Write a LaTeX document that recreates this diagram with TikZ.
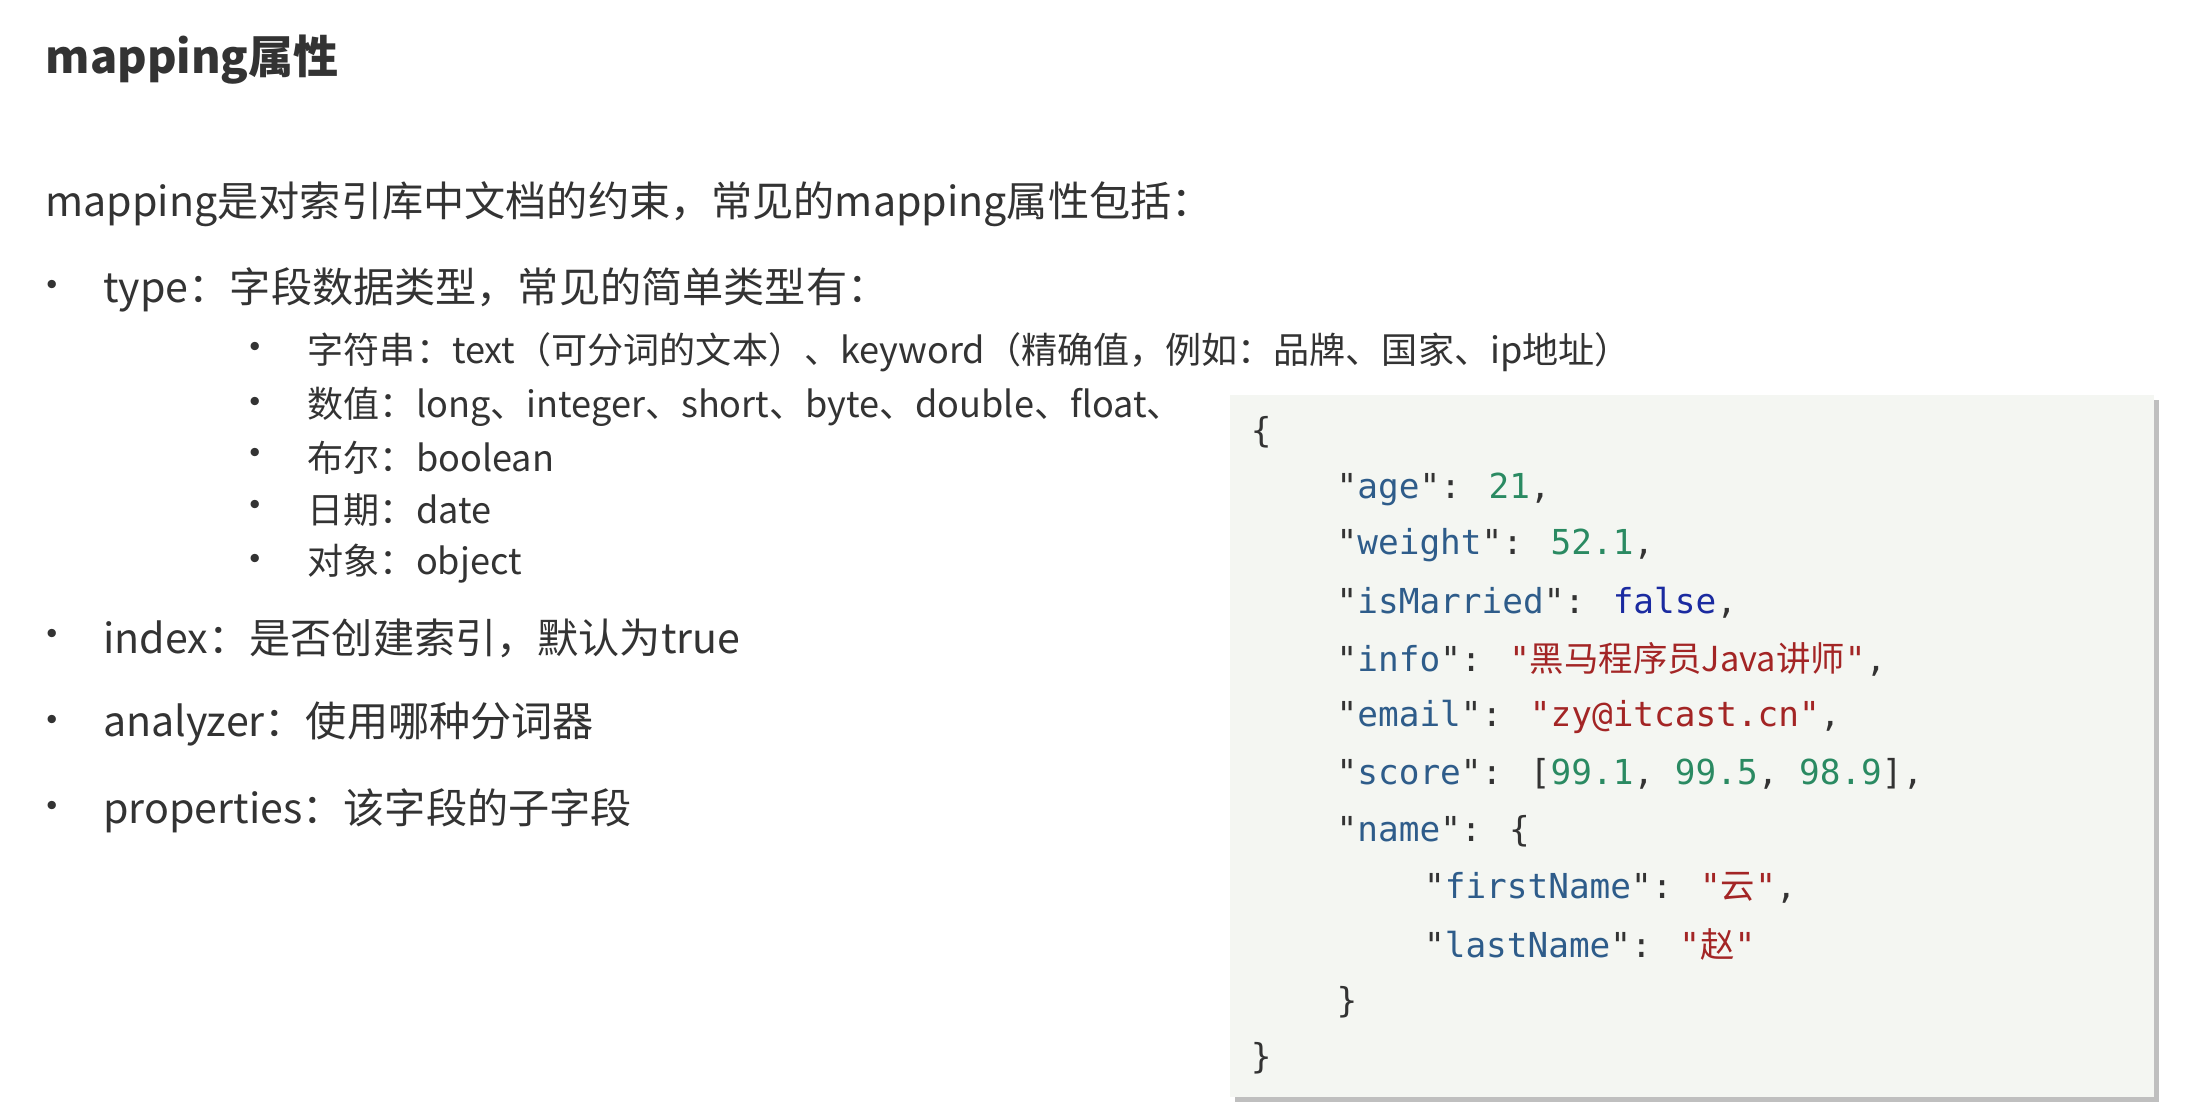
\documentclass[tikz,border=0pt]{standalone}
\usepackage{fontspec}
\setmainfont{Noto Sans CJK SC}
\newfontfamily\cjk{Noto Sans CJK SC}
\newfontfamily\codefont{DejaVu Sans Mono}
\definecolor{keyc}{HTML}{2E5C8A}
\definecolor{numc}{HTML}{2A8A62}
\definecolor{boolc}{HTML}{1A2AA0}
\definecolor{strc}{HTML}{A32525}
\definecolor{boxc}{HTML}{F4F6F2}
\definecolor{txt}{HTML}{333333}
\newcommand{\K}[1]{\textcolor{txt}{"}\textcolor{keyc}{#1}\textcolor{txt}{"}: }
\newcommand{\N}[1]{\textcolor{numc}{#1}}
\newcommand{\St}[1]{\textcolor{strc}{#1}}
\begin{document}
\begin{tikzpicture}[x=0.5pt,y=-0.5pt,
  main/.style={anchor=west,inner sep=0,font=\fontsize{14.6}{17}\selectfont,text=txt},
  sub/.style={anchor=west,inner sep=0,font=\fontsize{12.8}{15}\selectfont,text=txt},
  bul/.style={anchor=center,inner sep=0,font=\fontsize{14}{16}\selectfont,text=txt},
  code/.style={anchor=west,inner sep=0,font=\codefont\fontsize{12.2}{14}\selectfont,text=txt}]
\useasboundingbox[fill=white] (0,0) rectangle (1568,793);
\node[main,font=\bfseries\fontsize{16}{19}\selectfont] (title) at (32,42) {mapping属性};
\node[main] (intro) at (32,145) {mapping是对索引库中文档的约束，常见的mapping属性包括：};
\foreach \y/\t [count=\i] in {206/{type：字段数据类型，常见的简单类型有：},453/{index：是否创建索引，默认为true},514/{analyzer：使用哪种分词器},575/{properties：该字段的子字段}}{
  \node[bul] (b\i) at (37,\y) {•};
  \node[main] (m\i) at (73,\y) {\t};
}
\foreach \y/\t [count=\i] in {250/{字符串：text（可分词的文本）、keyword（精确值，例如：品牌、国家、ip地址）},289/{数值：long、integer、short、byte、double、float、},325/{布尔：boolean},362/{日期：date},400/{对象：object}}{
  \node[bul] (sb\i) at (181,\y) {•};
  \node[sub] (s\i) at (218,\y) {\t};
}
\fill[black!25] (876,284) rectangle (1532,782);
\fill[boxc] (873,280) rectangle (1528,778);
\node[code] (c0) at (887,307) {\{};
\node[code] (c1) at (948,347) {\K{age}\N{21},};
\node[code] (c2) at (948,387) {\K{weight}\N{52.1},};
\node[code] (c3) at (948,428) {\K{isMarried}\textcolor{boolc}{false},};
\node[code] (c4) at (948,468) {\K{info}\St{"{\cjk 黑马程序员Java讲师}"},};
\node[code] (c5) at (948,509) {\K{email}\St{"zy@itcast.cn"},};
\node[code] (c6) at (948,549) {\K{score}[\N{99.1}, \N{99.5}, \N{98.9}],};
\node[code] (c7) at (948,590) {\K{name}\{};
\node[code] (c8) at (1010,630) {\K{firstName}\St{"{\cjk 云}"},};
\node[code] (c9) at (1010,670) {\K{lastName}\St{"{\cjk 赵}"}};
\node[code] (c10) at (948,711) {\}};
\node[code] (c11) at (887,751) {\}};
\end{tikzpicture}
\end{document}
